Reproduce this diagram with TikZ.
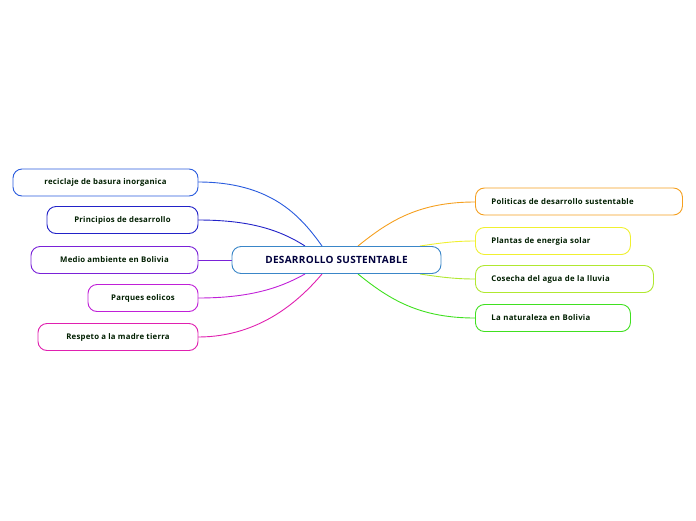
\documentclass[tikz,border=0pt]{standalone}
\usepackage{fontspec}
\setmainfont{Open Sans}[LetterSpace=3]
\begin{document}
\begin{tikzpicture}[x=1pt,y=-1pt,
 box/.style={draw=#1,line width=0.9pt,rounded corners=9pt,fill=white,text=black!70!green!40!black,font=\fontsize{7.8}{9}\selectfont\bfseries,inner sep=0pt,minimum height=27pt,anchor=center},
 rbox/.style={box=#1,align=left,inner xsep=16pt,anchor=west},
 con/.style={draw=#1,line width=0.9pt}]
\useasboundingbox (0,0) rectangle (696,520);
\definecolor{cb}{HTML}{2A5CDE}\definecolor{cdb}{HTML}{2222C8}\definecolor{cp}{HTML}{7A22D8}
\definecolor{cm}{HTML}{C020D8}\definecolor{cpk}{HTML}{E020B0}
\definecolor{co}{HTML}{F5A020}\definecolor{cy}{HTML}{F0F030}\definecolor{cyg}{HTML}{B0E830}\definecolor{cg}{HTML}{40E020}
\definecolor{cc}{HTML}{3A86C8}
\coordinate (l1) at (198,182);\coordinate (l2) at (198,220);\coordinate (l3) at (198,260);\coordinate (l4) at (198,298);\coordinate (l5) at (198,337);
\coordinate (r1) at (475,202);\coordinate (r2) at (475,241);\coordinate (r3) at (475,279);\coordinate (r4) at (475,318);
\draw[con=cb] (l1) .. controls (270,182) and (300,215) .. (322,246);
\draw[con=cdb] (l2) .. controls (250,220) and (280,230) .. (305,246);
\draw[con=cp] (l3) -- (233,260);
\draw[con=cm] (l4) .. controls (250,298) and (280,288) .. (305,274);
\draw[con=cpk] (l5) .. controls (260,337) and (300,300) .. (322,274);
\draw[con=co] (358,246) .. controls (390,220) and (420,202) .. (r1);
\draw[con=cy] (420,246) .. controls (440,243) and (455,241) .. (r2);
\draw[con=cyg] (420,274) .. controls (440,277) and (455,279) .. (r3);
\draw[con=cg] (358,274) .. controls (390,300) and (420,318) .. (r4);
\node[box=cc,minimum width=209pt,text=black!20!blue!30!black,font=\fontsize{10}{12}\selectfont\bfseries] (c) at (336.5,260) {DESARROLLO SUSTENTABLE};
\node[box=cb,minimum width=185pt] (a1) at (105.5,182.5) {reciclaje de basura inorganica};
\node[box=cdb,minimum width=151pt] (a2) at (122.5,220) {Principios de desarrollo};
\node[box=cp,minimum width=167pt] (a3) at (114.5,260) {Medio ambiente en Bolivia};
\node[box=cm,minimum width=110pt] (a4) at (143,298) {Parques eolicos};
\node[box=cpk,minimum width=160pt] (a5) at (118,337) {Respeto a la madre tierra};
\node[rbox=co,text width=175pt] (b1) at (475,201.5) {Politicas de desarrollo sustentable};
\node[rbox=cy,text width=123pt] (b2) at (475,241) {Plantas de energia solar};
\node[rbox=cyg,text width=146pt] (b3) at (475,279) {Cosecha del agua de la lluvia};
\node[rbox=cg,text width=123pt] (b4) at (475,318) {La naturaleza en Bolivia};
\end{tikzpicture}
\end{document}
